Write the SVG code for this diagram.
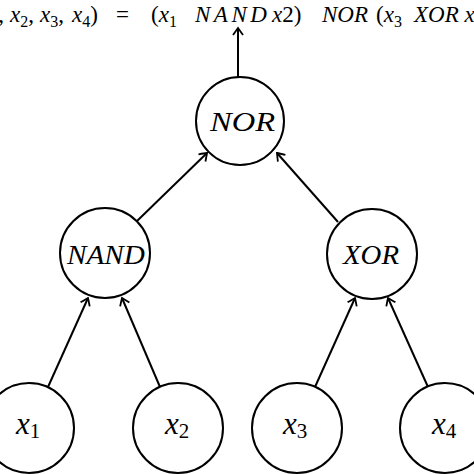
<svg xmlns="http://www.w3.org/2000/svg" width="474" height="474" viewBox="0 0 474 474">
<style>
.node circle{fill:#fff;stroke:#000;stroke-width:2}
.lbl{font-family:"Liberation Serif","DejaVu Serif",serif;font-style:italic;font-size:28px;fill:#000}
.leaf{font-size:31px}
.sub{font-style:normal;font-size:21px}
.title{font-family:"Liberation Serif","DejaVu Serif",serif;font-size:23px;fill:#000}
.i{font-style:italic}
.s{font-size:16px}
.edges line{stroke:#000;stroke-width:2;fill:none}
</style>
<defs>
<marker id="arr" markerUnits="userSpaceOnUse" markerWidth="14" markerHeight="14" viewBox="-8 -7 10 14" refX="0" refY="0" orient="auto">
<path d="M-7,-5 Q-2,-1.5 0,0 Q-2,1.5 -7,5" fill="none" stroke="#000" stroke-width="1.8"/>
</marker>
</defs>
<rect width="474" height="474" fill="#fff"/>
<text class="title" y="22"><tspan x="-34" class="i">f</tspan>(<tspan class="i">x</tspan><tspan class="s" dy="5">1</tspan><tspan dy="-5">,</tspan><tspan x="10" class="i">x</tspan><tspan class="s" dy="5">2</tspan><tspan dy="-5">,</tspan><tspan x="40" class="i">x</tspan><tspan class="s" dy="5">3</tspan><tspan dy="-5">,</tspan><tspan x="72" class="i">x</tspan><tspan class="s" dy="5">4</tspan><tspan dy="-5">)</tspan><tspan x="116">=</tspan><tspan x="151">(</tspan><tspan class="i">x</tspan><tspan class="s" dy="5">1</tspan><tspan x="195" dy="-5" class="i" letter-spacing="3.5">NAND</tspan><tspan x="272" class="i">x</tspan><tspan>2)</tspan><tspan x="322" class="i">NOR</tspan><tspan x="376">(</tspan><tspan class="i">x</tspan><tspan class="s" dy="5">3</tspan><tspan x="414" dy="-5" class="i">XOR</tspan><tspan> </tspan><tspan class="i">x</tspan><tspan class="s" dy="5">4</tspan><tspan dy="-5">)</tspan></text>
<g class="edges">
<line x1="238" y1="77" x2="238" y2="28" marker-end="url(#arr)"/>
<line x1="137" y1="221" x2="207" y2="153" marker-end="url(#arr)"/>
<line x1="338" y1="222" x2="277" y2="153" marker-end="url(#arr)"/>
<line x1="48" y1="387" x2="88" y2="298" marker-end="url(#arr)"/>
<line x1="160" y1="387" x2="122" y2="298" marker-end="url(#arr)"/>
<line x1="315" y1="387" x2="355" y2="298" marker-end="url(#arr)"/>
<line x1="428" y1="387" x2="388" y2="298" marker-end="url(#arr)"/>
</g>
<g id="nor" class="node"><circle cx="240" cy="121" r="44"/><text class="lbl" x="210" y="131" textLength="65" lengthAdjust="spacingAndGlyphs">NOR</text></g>
<g id="nand" class="node"><circle cx="105" cy="253" r="45"/><text class="lbl" x="67" y="264" textLength="78" lengthAdjust="spacingAndGlyphs">NAND</text></g>
<g id="xor" class="node"><circle cx="372" cy="254" r="45"/><text class="lbl" x="343" y="264" textLength="56" lengthAdjust="spacingAndGlyphs">XOR</text></g>
<g id="x1" class="node"><circle cx="29" cy="428" r="45"/><text class="lbl leaf" x="16" y="434">x<tspan class="sub" dy="4">1</tspan></text></g>
<g id="x2" class="node"><circle cx="178" cy="428" r="45"/><text class="lbl leaf" x="165" y="434">x<tspan class="sub" dy="4">2</tspan></text></g>
<g id="x3" class="node"><circle cx="297" cy="428" r="45"/><text class="lbl leaf" x="283" y="434">x<tspan class="sub" dy="4">3</tspan></text></g>
<g id="x4" class="node"><circle cx="445" cy="428" r="45"/><text class="lbl leaf" x="432" y="434">x<tspan class="sub" dy="4">4</tspan></text></g>
</svg>
